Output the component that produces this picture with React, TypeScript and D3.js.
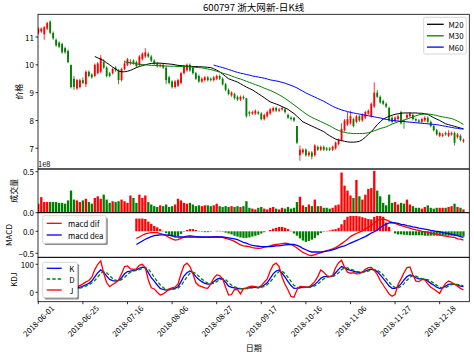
import React from 'react';
import * as d3 from 'd3';

// ---- data ----
const tickLabels = ['2018-06-01','2018-06-25','2018-07-16','2018-08-06','2018-08-27','2018-09-17','2018-10-16','2018-11-06','2018-11-27','2018-12-18'];

const openP = [11.15,11.20,11.10,11.30,11.55,11.15,10.90,10.80,10.75,10.60,
10.50,10.00,9.50,9.15,9.20,9.45,9.30,9.75,9.65,9.60,
9.70,9.75,10.10,9.90,9.70,9.70,9.90,9.80,9.45,9.85,
10.00,10.05,10.15,10.10,10.00,10.20,10.30,10.40,10.30,10.15,
10.05,9.95,10.00,9.90,9.55,9.40,9.20,9.25,9.35,9.70,
9.80,10.00,9.90,9.70,9.60,9.40,9.45,9.55,9.50,9.45,
9.50,9.60,9.50,9.30,9.10,8.90,8.95,8.85,8.75,8.85,
8.80,8.30,8.25,8.25,8.30,8.25,8.05,8.15,8.25,8.35,
8.45,8.35,8.40,8.40,8.20,8.10,8.10,7.80,6.75,6.85,
6.95,6.75,6.85,6.75,7.05,6.95,7.05,7.00,7.00,6.95,
7.00,7.15,7.30,7.65,7.85,7.90,8.05,7.95,8.15,8.00,
8.10,8.25,8.15,8.50,9.00,8.85,8.70,8.60,8.45,8.10,
7.97,8.05,8.30,8.00,8.10,8.15,8.20,8.05,8.00,7.95,
8.00,8.10,7.95,7.80,7.65,7.45,7.45,7.55,7.45,7.50,
7.55,7.40,7.45,7.25];

const highP = [11.35,11.35,11.40,11.55,11.60,11.20,10.95,10.85,10.80,10.65,
10.55,10.00,9.60,9.50,9.50,9.55,9.80,9.80,9.70,10.05,
10.10,10.35,10.20,9.95,9.75,9.90,9.95,9.85,9.90,10.15,
10.25,10.20,10.20,10.15,10.35,10.45,10.60,10.45,10.35,10.20,
10.10,10.05,10.05,9.95,9.60,9.45,9.45,9.50,9.75,10.00,
10.05,10.05,9.95,9.75,9.65,9.55,9.60,9.60,9.55,9.60,
9.65,9.65,9.55,9.35,9.15,9.05,9.00,8.90,8.90,8.90,
8.80,8.35,8.35,8.40,8.35,8.30,8.25,8.35,8.45,8.50,
8.50,8.45,8.50,8.45,8.25,8.15,8.12,7.80,7.10,7.00,
7.00,6.90,6.90,7.15,7.10,7.10,7.10,7.05,7.05,7.10,
7.25,7.35,7.90,8.05,8.30,8.35,8.10,8.20,8.20,8.25,
8.35,8.40,8.65,9.37,9.10,8.90,8.75,8.65,8.50,8.15,
8.15,8.20,8.35,8.05,8.25,8.30,8.25,8.10,8.05,8.10,
8.15,8.15,8.00,7.85,7.70,7.60,7.55,7.60,7.65,7.60,
7.60,7.55,7.50,7.35];

const lowP = [11.10,11.15,10.90,11.25,11.10,10.90,10.65,10.60,10.40,10.40,
10.05,9.15,9.10,9.10,9.15,9.30,9.20,9.55,9.50,9.55,
9.65,9.70,9.85,9.55,9.55,9.65,9.75,9.30,9.40,9.80,
9.95,10.00,10.00,9.90,9.95,10.15,10.25,10.25,10.10,10.00,
9.90,9.90,9.85,9.30,9.30,9.15,9.15,9.20,9.30,9.65,
9.75,9.75,9.65,9.45,9.35,9.35,9.40,9.40,9.40,9.40,
9.45,9.45,9.25,9.05,8.90,8.85,8.75,8.70,8.70,8.75,
8.10,8.15,8.20,8.20,8.20,8.00,8.00,8.10,8.20,8.30,
8.30,8.30,8.35,8.25,8.05,8.00,7.95,7.15,6.55,6.80,
6.70,6.70,6.60,6.70,6.90,6.90,6.90,6.90,6.90,6.90,
6.95,7.10,7.25,7.60,7.80,7.85,7.75,7.90,7.95,7.95,
8.05,8.20,8.10,8.45,8.80,8.60,8.55,8.45,7.95,7.90,
7.95,8.00,7.85,7.70,8.05,8.10,8.00,7.95,7.90,7.90,
7.95,7.90,7.75,7.60,7.45,7.40,7.40,7.45,7.40,7.45,
7.10,7.35,7.25,7.20];

const closeP = [11.30,11.30,11.35,11.50,11.15,10.95,10.70,10.65,10.45,10.45,
10.10,9.20,9.20,9.45,9.45,9.35,9.75,9.60,9.55,10.00,
10.05,10.25,9.90,9.60,9.60,9.85,9.80,9.45,9.85,10.05,
10.20,10.10,10.05,9.95,10.30,10.40,10.45,10.30,10.15,10.05,
9.95,10.00,9.90,9.45,9.35,9.20,9.40,9.45,9.70,9.95,
10.00,9.80,9.70,9.50,9.40,9.50,9.55,9.45,9.45,9.55,
9.60,9.50,9.30,9.10,8.95,9.00,8.80,8.75,8.85,8.80,
8.15,8.25,8.30,8.35,8.25,8.05,8.20,8.30,8.40,8.45,
8.35,8.40,8.45,8.30,8.10,8.05,8.00,7.20,6.95,6.95,
6.75,6.85,6.70,7.10,6.95,7.05,6.95,6.95,6.95,7.05,
7.20,7.30,7.70,8.00,8.05,8.15,7.80,8.15,8.00,8.20,
8.30,8.35,8.60,9.00,8.85,8.65,8.60,8.50,8.00,7.95,
8.10,8.15,7.90,7.95,8.20,8.25,8.05,8.00,7.95,8.05,
8.10,7.95,7.80,7.65,7.50,7.55,7.50,7.50,7.55,7.55,
7.20,7.50,7.30,7.30];

// volume, millions of shares
const volume = [11,19,13,13,13,13,13,12,12,11,
15,27,16,15,13,15,17,13,11,18,
20,17,22,16,12,14,13,14,16,14,
12,21,18,12,22,18,21,13,10,8,
7,9,8,10,7,8,10,17,15,12,
11,12,10,8,9,8,9,9,8,9,
11,8,7,8,7,8,7,8,7,8,
14,6,5,4,6,7,5,4,6,7,
5,4,6,5,7,5,6,13,19.5,9,
7,10,8,16,8,8,6,6,5,6,
9,10,49,33,27,21,18,40,20,16,
22,29,30,51,27,20,12,9,22,12,
13,10,12,11,16,10,8,6,6,5,
7,9,6,5,6,6,6,6,7,8,
11,7,6,4];

const ma20Start = 19;
const ma20 = [10.30,10.25,10.20,10.15,10.07,10.00,9.92,9.85,9.78,9.75,
9.75,9.77,9.80,9.85,9.90,9.94,9.97,10.00,10.03,10.05,
10.06,10.06,10.06,10.05,10.04,10.03,10.02,10.00,9.98,9.97,
9.96,9.95,9.95,9.94,9.94,9.93,9.93,9.92,9.91,9.90,
9.86,9.81,9.75,9.67,9.58,9.50,9.46,9.42,9.38,9.32,
9.26,9.20,9.15,9.10,9.03,8.96,8.89,8.82,8.74,8.67,
8.63,8.59,8.55,8.50,8.45,8.40,8.32,8.25,8.15,8.05,
7.95,7.90,7.85,7.80,7.75,7.70,7.65,7.60,7.52,7.45,
7.39,7.33,7.30,7.28,7.25,7.23,7.22,7.22,7.23,7.25,
7.31,7.40,7.50,7.60,7.72,7.85,7.95,8.05,8.10,8.15,
8.19,8.22,8.24,8.26,8.27,8.27,8.27,8.27,8.27,8.26,
8.26,8.24,8.22,8.16,8.10,8.05,8.00,7.94,7.88,7.85,
7.82,7.79,7.76,7.73,7.70];

const ma30Start = 29;
const ma30 = [10.11,10.09,10.07,10.05,10.03,10.02,10.01,10.00,9.99,9.98,
9.98,9.97,9.97,9.96,9.96,9.95,9.95,9.95,9.94,9.94,
9.94,9.93,9.93,9.92,9.91,9.90,9.89,9.87,9.85,9.83,
9.80,9.77,9.74,9.70,9.67,9.64,9.60,9.56,9.52,9.49,
9.45,9.41,9.37,9.33,9.29,9.25,9.21,9.16,9.12,9.08,
9.03,8.98,8.92,8.86,8.79,8.72,8.64,8.56,8.48,8.40,
8.32,8.24,8.17,8.11,8.06,8.01,7.96,7.91,7.86,7.81,
7.75,7.69,7.64,7.60,7.57,7.55,7.54,7.53,7.53,7.53,
7.53,7.54,7.56,7.59,7.63,7.67,7.71,7.74,7.77,7.82,
7.87,7.91,7.95,7.98,8.01,8.05,8.09,8.13,8.17,8.20,
8.22,8.23,8.23,8.22,8.20,8.18,8.15,8.13,8.11,8.09,
8.07,8.03,7.98,7.92,7.86];

const ma60Start = 59;
const ma60 = [9.99,9.96,9.93,9.90,9.87,9.83,9.80,9.76,9.73,9.70,
9.68,9.65,9.63,9.60,9.58,9.56,9.54,9.52,9.49,9.46,
9.44,9.42,9.40,9.37,9.34,9.30,9.26,9.22,9.17,9.11,
9.05,8.99,8.94,8.89,8.84,8.79,8.74,8.69,8.63,8.57,
8.51,8.46,8.42,8.38,8.35,8.32,8.29,8.27,8.25,8.23,
8.21,8.19,8.17,8.15,8.13,8.11,8.09,8.06,8.04,8.02,
8.00,7.99,7.98,7.97,7.96,7.95,7.94,7.93,7.92,7.91,
7.90,7.89,7.88,7.87,7.86,7.85,7.83,7.81,7.79,7.77,
7.75,7.73,7.72,7.70,7.69];

const macdStart = 33;
const macdDif = [-0.16,-0.13,-0.09,-0.06,-0.04,-0.03,-0.03,-0.03,-0.05,-0.07,
-0.10,-0.14,-0.17,-0.20,-0.19,-0.16,-0.13,-0.11,-0.10,-0.11,
-0.12,-0.13,-0.14,-0.14,-0.14,-0.14,-0.13,-0.13,-0.13,-0.14,
-0.16,-0.18,-0.20,-0.23,-0.27,-0.31,-0.33,-0.34,-0.35,-0.37,
-0.38,-0.39,-0.38,-0.36,-0.35,-0.33,-0.31,-0.30,-0.29,-0.28,
-0.27,-0.28,-0.30,-0.33,-0.38,-0.43,-0.48,-0.51,-0.54,-0.55,
-0.53,-0.51,-0.49,-0.46,-0.44,-0.42,-0.40,-0.37,-0.33,-0.28,
-0.23,-0.18,-0.12,-0.08,-0.05,-0.02,0.01,0.05,0.09,0.14,
0.19,0.25,0.27,0.28,0.26,0.23,0.20,0.18,0.15,0.13,
0.11,0.09,0.07,0.05,0.03,0.02,0.00,-0.01,-0.02,-0.04,
-0.05,-0.07,-0.08,-0.10,-0.11,-0.12,-0.13,-0.14,-0.17,-0.18,
-0.20];
const macdDea = [-0.30,-0.26,-0.22,-0.18,-0.15,-0.12,-0.10,-0.09,-0.08,-0.08,
-0.08,-0.09,-0.10,-0.12,-0.13,-0.13,-0.13,-0.13,-0.13,-0.13,
-0.13,-0.13,-0.13,-0.13,-0.13,-0.13,-0.13,-0.13,-0.13,-0.13,
-0.14,-0.15,-0.16,-0.17,-0.19,-0.22,-0.25,-0.27,-0.30,-0.32,
-0.33,-0.34,-0.35,-0.35,-0.35,-0.35,-0.34,-0.33,-0.33,-0.32,
-0.31,-0.30,-0.30,-0.30,-0.32,-0.35,-0.39,-0.42,-0.45,-0.47,
-0.47,-0.47,-0.47,-0.46,-0.45,-0.44,-0.42,-0.40,-0.37,-0.35,
-0.33,-0.30,-0.27,-0.24,-0.21,-0.18,-0.15,-0.12,-0.08,-0.04,
-0.01,0.03,0.08,0.13,0.16,0.19,0.20,0.19,0.18,0.16,
0.15,0.13,0.12,0.10,0.09,0.07,0.06,0.05,0.04,0.02,
0.01,0.00,-0.01,-0.03,-0.04,-0.05,-0.07,-0.08,-0.10,-0.12,
-0.14];
const macdHist = [0.29,0.29,0.29,0.28,0.22,0.17,0.12,0.09,0.05,0.01,
-0.04,-0.08,-0.12,-0.14,-0.12,-0.06,-0.01,0.03,0.05,0.05,
0.03,0.01,-0.01,-0.02,-0.02,-0.01,0.00,0.01,0.01,-0.01,
-0.03,-0.05,-0.07,-0.10,-0.12,-0.14,-0.15,-0.15,-0.14,-0.12,
-0.10,-0.08,-0.05,-0.02,0.00,0.03,0.06,0.08,0.10,0.10,
0.08,0.05,0.01,-0.05,-0.10,-0.16,-0.21,-0.24,-0.22,-0.19,
-0.15,-0.09,-0.04,-0.01,0.01,0.02,0.04,0.05,0.08,0.16,
0.26,0.33,0.35,0.35,0.35,0.34,0.32,0.30,0.28,0.27,
0.33,0.35,0.35,0.33,0.20,0.10,0.00,-0.05,-0.07,-0.07,
-0.08,-0.08,-0.09,-0.09,-0.09,-0.09,-0.09,-0.10,-0.10,-0.10,
-0.10,-0.10,-0.10,-0.10,-0.10,-0.10,-0.10,-0.11,-0.11,-0.12,
-0.12];

const kdjStart = 12;
const kdjK = [12,14,18,22,27,32,40,55,70,80,
72,58,46,42,40,42,52,66,74,76,
78,80,86,90,88,70,52,40,26,14,
10,8,10,12,14,20,38,58,70,76,
70,56,46,38,32,29,30,38,46,50,
48,36,22,18,16,14,12,13,14,16,
18,18,17,20,26,34,50,66,76,80,
68,54,38,24,14,15,17,18,18,18,
22,28,38,50,56,56,56,58,70,82,
92,88,82,78,76,72,71,72,76,80,
83,80,74,62,50,36,22,14,14,20,
30,44,56,62,60,52,48,48,46,40,
32,26,18,14,16,22,28,30,29,26,
22,20];
const kdjD = [10,12,15,18,22,27,33,42,55,68,
74,70,59,49,43,41,45,53,64,72,
76,78,81,85,88,83,70,54,39,27,
17,11,9,10,12,15,24,39,55,68,
72,67,57,47,39,33,30,32,38,45,
48,45,35,25,19,16,14,13,13,14,
16,17,18,18,21,27,37,50,64,74,
75,67,53,39,25,18,15,17,18,18,
19,23,29,39,48,54,56,57,61,70,
81,87,87,83,79,75,73,72,73,76,
80,81,79,72,62,49,36,24,17,16,
21,31,43,54,59,58,53,49,47,45,
39,33,25,19,16,17,22,27,29,28,
26,23];
const kdjJ = [16,18,24,30,37,42,54,81,100,112,
68,34,20,28,34,44,66,92,94,84,
82,84,96,100,88,44,16,12,0,-10,
-6,2,12,16,18,30,66,96,104,92,
66,34,24,20,16,14,30,50,62,60,
48,18,-10,-8,10,10,-6,13,16,20,
22,20,15,24,36,48,76,98,104,92,
54,28,8,-15,-18,9,21,20,18,18,
28,38,56,80,72,60,56,60,88,106,
114,90,72,68,70,66,67,72,82,88,
89,78,64,42,26,10,-6,-14,-8,28,
48,70,88,90,62,40,38,46,44,30,
18,12,4,-4,16,32,40,36,29,22,
14,8];

const FONT = "'Noto Sans CJK SC', 'DejaVu Sans', sans-serif";
const RED = '#ff0000';
const GREEN = '#008000';
const BLUE = '#0000ff';

type Pt = [number, number];
const toPts = (arr: number[], start: number): Pt[] => arr.map((v, k) => [start + k, v] as Pt);

export default function App() {
  const W = 474, H = 355;
  const L = 38, R = 469.3;
  const P = { price: [14.3, 169], vol: [169, 212.7], macd: [212.7, 257.3], kdj: [257.3, 301.7] };

  const x = d3.scaleLinear().domain([0, 145]).range([38.3, 469.4]);
  const step = x(1) - x(0);
  const yP = d3.scaleLinear().domain([6.256, 11.816]).range([P.price[1], P.price[0]]);
  const yV = d3.scaleLinear().domain([0, 53.3]).range([P.vol[1], P.vol[0]]);
  const yM = d3.scaleLinear().domain([-0.591, 0.423]).range([P.macd[1], P.macd[0]]);
  const yK = d3.scaleLinear().domain([-33.6, 125]).range([P.kdj[1], P.kdj[0]]);

  const mkLine = (ys: d3.ScaleLinear<number, number>) =>
    d3.line<Pt>().x(d => x(d[0])).y(d => ys(d[1]));

  const lineP = mkLine(yP), lineM = mkLine(yM), lineK = mkLine(yK);
  const idx = d3.range(openP.length);
  const bodyW = step * 0.62;
  const barW = step * 0.78;

  const yTick = (ys: d3.ScaleLinear<number, number>, vals: number[], labels: string[]) =>
    vals.map((v, k) => (
      <g key={k}>
        <line x1={L - 2.5} x2={L} y1={ys(v)} y2={ys(v)} stroke="#000" strokeWidth={0.8} />
        <text x={L - 4} y={ys(v)} textAnchor="end" dominantBaseline="central" fontSize={8}>{labels[k]}</text>
      </g>
    ));

  const ylabel = (txt: string, cx: number, cy: number) => (
    <text transform={`translate(${cx},${cy}) rotate(-90)`} textAnchor="middle" dominantBaseline="central" fontSize={8}>{txt}</text>
  );

  const legend = (bx: number, by: number, bw: number, bh: number, items: { label: string; color: string; dash?: string; y: number }[], shadow: boolean, textX: number, lineX1: number, lineX2: number) => (
    <g>
      {shadow && <rect x={bx + 1.8} y={by + 1.8} width={bw} height={bh} rx={1.5} fill="#000" opacity={0.45} />}
      <rect x={bx} y={by} width={bw} height={bh} rx={1.5} fill="#fff" fillOpacity={shadow ? 1 : 0.8} stroke="#cccccc" strokeWidth={0.8} />
      {items.map((it, k) => (
        <g key={k}>
          <line x1={lineX1} x2={lineX2} y1={it.y} y2={it.y} stroke={it.color} strokeWidth={1.3} strokeDasharray={it.dash} />
          <text x={textX} y={it.y} dominantBaseline="central" fontSize={7.8}>{it.label}</text>
        </g>
      ))}
    </g>
  );

  return (
    <svg width={W} height={H} style={{ position: 'absolute', left: 0, top: 0, background: '#fff' }} fontFamily={FONT}>
      <defs>
        {Object.entries(P).map(([k, [a, b]]) => (
          <clipPath id={`clip-${k}`} key={k}><rect x={L} y={a} width={R - L} height={b - a} /></clipPath>
        ))}
      </defs>
      <rect x={0} y={0} width={W} height={H} fill="#fff" />

      {/* title */}
      <text x={(L + R) / 2} y={10.5} textAnchor="middle" fontSize={9.6}>600797 浙大网新-日K线</text>

      {/* price panel */}
      <g clipPath="url(#clip-price)">
        {idx.map(i => {
          const up = closeP[i] >= openP[i];
          const c = up ? RED : GREEN;
          const top = yP(Math.max(openP[i], closeP[i]));
          const bot = yP(Math.min(openP[i], closeP[i]));
          return (
            <g key={i}>
              <line x1={x(i)} x2={x(i)} y1={yP(highP[i])} y2={yP(lowP[i])} stroke={c} strokeWidth={0.8} />
              <rect x={x(i) - bodyW / 2} y={top} width={bodyW} height={Math.max(bot - top, 0.6)} fill={c} />
            </g>
          );
        })}
        <path d={lineP(toPts(ma20, ma20Start)) || ''} fill="none" stroke="#000" strokeWidth={1} />
        <path d={lineP(toPts(ma30, ma30Start)) || ''} fill="none" stroke={GREEN} strokeWidth={1} />
        <path d={lineP(toPts(ma60, ma60Start)) || ''} fill="none" stroke={BLUE} strokeWidth={1} />
      </g>
      {yTick(yP, [7, 8, 9, 10, 11], ['7', '8', '9', '10', '11'])}
      {ylabel('价格', 18.3, (P.price[0] + P.price[1]) / 2)}
      {legend(423.7, 17.3, 42.6, 36.7, [
        { label: 'M20', color: '#000', y: 24.3 },
        { label: 'M30', color: GREEN, y: 35.8 },
        { label: 'M60', color: BLUE, y: 47.1 },
      ], false, 448.5, 427, 443.7)}

      {/* volume panel */}
      <g clipPath="url(#clip-vol)">
        {idx.map(i => (
          <rect key={i} x={x(i) - barW / 2} y={yV(volume[i])} width={barW} height={yV(0) - yV(volume[i])}
            fill={closeP[i] >= openP[i] ? RED : GREEN} />
        ))}
      </g>
      {yTick(yV, [0, 50], ['0.0', '0.5'])}
      <text x={38} y={166.8} fontSize={7.5}>1e8</text>
      {ylabel('成交量', 13.3, (P.vol[0] + P.vol[1]) / 2)}

      {/* MACD panel */}
      <g clipPath="url(#clip-macd)">
        {macdHist.map((v, k) => {
          const i = macdStart + k;
          const y0 = yM(0), y1 = yM(v);
          return <rect key={k} x={x(i) - barW / 2} y={Math.min(y0, y1)} width={barW} height={Math.abs(y1 - y0)} fill={v >= 0 ? RED : GREEN} />;
        })}
        <path d={lineM(toPts(macdDif, macdStart)) || ''} fill="none" stroke={RED} strokeWidth={1.3} />
        <path d={lineM(toPts(macdDea, macdStart)) || ''} fill="none" stroke={BLUE} strokeWidth={1.3} />
      </g>
      {yTick(yM, [-0.5, 0], ['\u22120.5', '0.0'])}
      {ylabel('MACD', 8.8, (P.macd[0] + P.macd[1]) / 2)}
      {legend(42.7, 215.7, 63.3, 27.6, [
        { label: 'macd dif', color: RED, y: 223.3 },
        { label: 'macd dea', color: BLUE, y: 235 },
      ], true, 68, 46.7, 61.7)}

      {/* KDJ panel */}
      <g clipPath="url(#clip-kdj)">
        <path d={lineK(toPts(kdjK, kdjStart)) || ''} fill="none" stroke={BLUE} strokeWidth={1.3} />
        <path d={lineK(toPts(kdjD, kdjStart)) || ''} fill="none" stroke={GREEN} strokeWidth={1.3} strokeDasharray="3.5,2" />
        <path d={lineK(toPts(kdjJ, kdjStart)) || ''} fill="none" stroke={RED} strokeWidth={1.3} />
      </g>
      {yTick(yK, [0, 100], ['0', '100'])}
      {ylabel('KDJ', 13, (P.kdj[0] + P.kdj[1]) / 2)}
      {legend(42.7, 262.3, 34.6, 35.4, [
        { label: 'K', color: BLUE, y: 268.3 },
        { label: 'D', color: GREEN, dash: '3.5,2', y: 279 },
        { label: 'J', color: RED, y: 290 },
      ], true, 69.3, 46.7, 61.7)}

      {/* frames */}
      {Object.entries(P).map(([k, [a, b]]) => (
        <rect key={k} x={L} y={a} width={R - L} height={b - a} fill="none" stroke="#000" strokeWidth={0.8} />
      ))}

      {/* x axis */}
      {tickLabels.map((lab, k) => {
        const i = k * 15;
        return (
          <g key={k}>
            <line x1={x(i)} x2={x(i)} y1={P.kdj[1]} y2={P.kdj[1] + 2.5} stroke="#000" strokeWidth={0.8} />
            <text transform={`translate(${x(i)},${320.5}) rotate(-45)`} textAnchor="middle" dominantBaseline="central" fontSize={7.8}>{lab}</text>
          </g>
        );
      })}
      <text x={(L + R) / 2} y={351} textAnchor="middle" fontSize={8}>日期</text>
    </svg>
  );
}
